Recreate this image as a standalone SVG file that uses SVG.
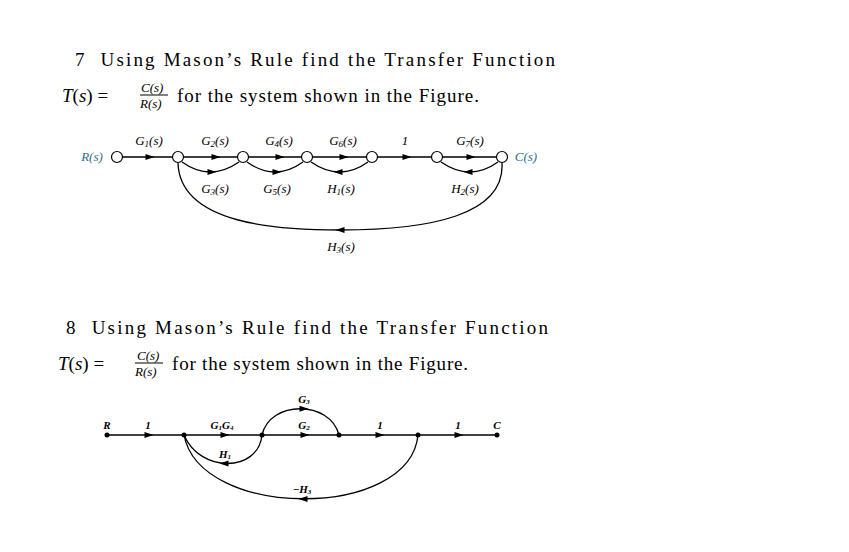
<svg xmlns="http://www.w3.org/2000/svg" width="849" height="552" viewBox="0 0 849 552">
<style>
.t{font-family:"Liberation Serif",serif;font-size:19px;fill:#000}
.m{font-family:"Liberation Serif",serif;font-style:italic;font-size:19px}
.f{font-family:"Liberation Serif",serif;font-style:italic;font-size:13px}
.l{font-family:"Liberation Serif",serif;font-style:italic;font-size:13px;text-anchor:middle}
.b{font-family:"Liberation Serif",serif;font-weight:bold;font-style:italic;font-size:11px;text-anchor:middle}
.e{fill:none;stroke:#000;stroke-width:1.3}
.n{fill:#fff;stroke:#000;stroke-width:1.2}
.s{font-size:9px}
</style>
<defs>
<path id="ar" d="M-4.5,-3L4.5,0L-4.5,3z" fill="#000"/>
</defs>
<rect width="849" height="552" fill="#fff"/>
<g id="q7">
<text class="t" x="75" y="66" textLength="480" lengthAdjust="spacing">7&#160;&#160;Using Mason’s Rule find the Transfer Function</text>
<text x="62" y="102"><tspan class="m">T</tspan><tspan class="t">(</tspan><tspan class="m">s</tspan><tspan class="t">) =</tspan></text>
<text class="f" x="141" y="92">C(s)</text>
<line x1="140" y1="95" x2="168" y2="95" stroke="#000"/>
<text class="f" x="140" y="108">R(s)</text>
<text class="t" x="177" y="102" textLength="302" lengthAdjust="spacing">for the system shown in the Figure.</text>
</g>
<g id="conn1">
<path class="e" d="M122,157H172M184,157H237M249,157H301M313,157H366M378,157H431M443,157H496"/>
<use href="#ar" x="150" y="157"/><use href="#ar" x="216" y="157"/><use href="#ar" x="280" y="157"/>
<use href="#ar" x="344" y="157"/><use href="#ar" x="407" y="157"/><use href="#ar" x="471" y="157"/>
<path class="e" d="M182,162Q210,182 239,162"/><use href="#ar" x="212" y="172"/>
<path class="e" d="M247,162Q275,182 303,162"/><use href="#ar" x="277" y="172"/>
<path class="e" d="M311,162Q340,182 368,162"/><use href="#ar" transform="translate(338,172) rotate(180)"/>
<path class="e" d="M441,162Q470,182 498,162"/><use href="#ar" transform="translate(468,172) rotate(180)"/>
<path class="e" d="M178,163C180,225 280,230 340,230C430,230 505,215 502,163"/>
<use href="#ar" transform="translate(340,230) rotate(180)"/>
</g>
<g id="nodes1">
<circle class="n" cx="117" cy="157" r="5.5"/>
<circle class="n" cx="178" cy="157" r="5.5"/>
<circle class="n" cx="243" cy="157" r="5.5"/>
<circle class="n" cx="307" cy="157" r="5.5"/>
<circle class="n" cx="372" cy="157" r="5.5"/>
<circle class="n" cx="437" cy="157" r="5.5"/>
<circle class="n" cx="502" cy="157" r="5.5"/>
</g>
<g id="labels1">
<text class="l" x="92" y="161" fill="#2a6f8a">R(s)</text>
<text class="l" x="526" y="161" fill="#2a6f8a">C(s)</text>
<text class="l" x="149" y="145">G<tspan class="s" dy="2">1</tspan><tspan dy="-2">(s)</tspan></text>
<text class="l" x="215" y="145">G<tspan class="s" dy="2">2</tspan><tspan dy="-2">(s)</tspan></text>
<text class="l" x="279" y="145">G<tspan class="s" dy="2">4</tspan><tspan dy="-2">(s)</tspan></text>
<text class="l" x="343" y="145">G<tspan class="s" dy="2">6</tspan><tspan dy="-2">(s)</tspan></text>
<text class="l" x="405" y="145" font-style="normal">1</text>
<text class="l" x="470" y="145">G<tspan class="s" dy="2">7</tspan><tspan dy="-2">(s)</tspan></text>
<text class="l" x="215" y="193">G<tspan class="s" dy="2">3</tspan><tspan dy="-2">(s)</tspan></text>
<text class="l" x="277" y="193">G<tspan class="s" dy="2">5</tspan><tspan dy="-2">(s)</tspan></text>
<text class="l" x="341" y="193">H<tspan class="s" dy="2">1</tspan><tspan dy="-2">(s)</tspan></text>
<text class="l" x="465" y="193">H<tspan class="s" dy="2">2</tspan><tspan dy="-2">(s)</tspan></text>
<text class="l" x="341" y="251">H<tspan class="s" dy="2">3</tspan><tspan dy="-2">(s)</tspan></text>
</g>
<g id="q8">
<text class="t" x="66" y="334" textLength="482" lengthAdjust="spacing">8&#160;&#160;Using Mason’s Rule find the Transfer Function</text>
<text x="58" y="370"><tspan class="m">T</tspan><tspan class="t">(</tspan><tspan class="m">s</tspan><tspan class="t">) =</tspan></text>
<text class="f" x="137" y="360">C(s)</text>
<line x1="135" y1="363" x2="163" y2="363" stroke="#000"/>
<text class="f" x="135" y="376">R(s)</text>
<text class="t" x="172" y="370" textLength="296" lengthAdjust="spacing">for the system shown in the Figure.</text>
</g>
<g id="conn2">
<path class="e" d="M107,435H497"/>
<use href="#ar" x="149" y="435"/><use href="#ar" x="225" y="435"/><use href="#ar" x="305" y="435"/>
<use href="#ar" x="380" y="435"/><use href="#ar" x="459" y="435"/>
<path class="e" d="M262,435C270,400 330,400 339,435"/><use href="#ar" x="304" y="408.7"/>
<path class="e" d="M262,435C258,473 200,473 184,435"/><use href="#ar" transform="translate(224,463.5) rotate(180)"/>
<path class="e" d="M418,435C410,520 200,520 184,435"/><use href="#ar" transform="translate(303,499) rotate(180)"/>
</g>
<g id="nodes2" fill="#000">
<circle cx="107" cy="435" r="2.5"/><circle cx="184" cy="435" r="2.5"/><circle cx="262" cy="435" r="2.5"/>
<circle cx="339" cy="435" r="2.5"/><circle cx="418" cy="435" r="2.5"/><circle cx="497" cy="435" r="2.5"/>
</g>
<g id="labels2">
<text class="b" x="107" y="429">R</text>
<text class="b" x="148" y="429">1</text>
<text class="b" x="222" y="429">G<tspan font-size="7" dy="1">1</tspan><tspan dy="-1">G</tspan><tspan font-size="7" dy="1">4</tspan></text>
<text class="b" x="304" y="429">G<tspan font-size="7" dy="1">2</tspan></text>
<text class="b" x="304" y="403">G<tspan font-size="7" dy="1">3</tspan></text>
<text class="b" x="380" y="429">1</text>
<text class="b" x="458" y="429">1</text>
<text class="b" x="497" y="429">C</text>
<text class="b" x="225" y="458">H<tspan font-size="7" dy="1">1</tspan></text>
<text class="b" x="302" y="493">−H<tspan font-size="7" dy="1">3</tspan></text>
</g>
</svg>
